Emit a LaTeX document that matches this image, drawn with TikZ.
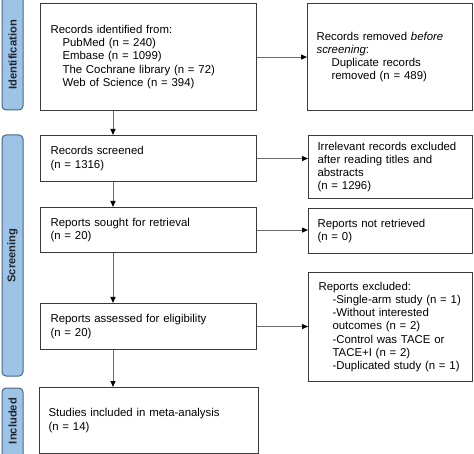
\documentclass[tikz,border=0pt]{standalone}
\usepackage{fontspec}
\setmainfont{Liberation Sans}
\usetikzlibrary{arrows.meta,calc}
\definecolor{sidefill}{HTML}{9DC3E6}
\definecolor{sidedraw}{HTML}{4A6581}
\definecolor{sidetext}{HTML}{1E2630}
\definecolor{boxdraw}{HTML}{3A3A3A}
\definecolor{arrline}{HTML}{6A6A6A}
\begin{document}
\begin{tikzpicture}[x=1pt,y=-1pt,
  flowbox/.style={draw=boxdraw,line width=1.1pt,fill=white,anchor=north west,
    align=left,inner ysep=0pt,font=\fontsize{11.4}{13.3}\selectfont},
  sidebar/.style={draw=sidedraw,line width=1pt,fill=sidefill,rounded corners=4pt},
  sidelabel/.style={rotate=90,font=\fontsize{11.2}{13}\selectfont\bfseries,text=sidetext},
  arr/.style={draw=arrline,line width=0.8pt,-{Triangle[length=6pt,width=5pt,color=black]}}]
\useasboundingbox (0,0) rectangle (474,454);
% side bars
\draw[sidebar] (2,-4) rectangle (23,110);
\node[sidelabel] (lid) at (12.5,55) {Identification};
\draw[sidebar] (2,135) rectangle (23,376);
\node[sidelabel] (lsc) at (12.5,255.5) {Screening};
\draw[sidebar] (2,388) rectangle (23,462);
\node[sidelabel] (lin) at (12.5,421) {Included};
% boxes
\node[flowbox,inner xsep=10pt,text width=196pt,minimum width=216pt,minimum height=107pt] (ident) at (40,3)
  {Records identified from:\\
   \hspace*{12pt}PubMed (n = 240)\\
   \hspace*{12pt}Embase (n = 1099)\\
   \hspace*{12pt}The Cochrane library (n = 72)\\
   \hspace*{12pt}Web of Science (n = 394)};
\node[flowbox,inner xsep=9pt,text width=147pt,minimum width=165pt,minimum height=107pt] (removed) at (307,3)
  {Records removed \textit{before}\\
   \textit{screening}:\\
   \hspace*{15pt}Duplicate records\\
   \hspace*{15pt}removed (n = 489)};
\node[flowbox,inner xsep=10pt,text width=196pt,minimum width=216pt,minimum height=46pt] (screened) at (40,135)
  {Records screened\\(n = 1316)};
\node[flowbox,inner xsep=9pt,text width=146pt,minimum width=164pt,minimum height=63pt] (irrel) at (308,135)
  {Irrelevant records excluded\\after reading titles and\\abstracts\\(n = 1296)};
\node[flowbox,inner xsep=10pt,text width=196pt,minimum width=216pt,minimum height=45pt] (sought) at (40,207)
  {Reports sought for retrieval\\(n = 20)};
\node[flowbox,inner xsep=9pt,text width=146pt,minimum width=164pt,minimum height=45pt] (notret) at (308,208)
  {Reports not retrieved\\(n = 0)};
\node[flowbox,inner xsep=10pt,text width=196pt,minimum width=216pt,minimum height=46pt] (assessed) at (40,303)
  {Reports assessed for eligibility\\(n = 20)};
\node[flowbox,inner xsep=10pt,text width=144pt,minimum width=164pt,minimum height=109pt] (excluded) at (308,272)
  {Reports excluded:\\
   \hspace*{14pt}-Single-arm study (n = 1)\\
   \hspace*{14pt}-Without interested\\
   \hspace*{14pt}outcomes (n = 2)\\
   \hspace*{14pt}-Control was TACE or\\
   \hspace*{14pt}TACE+I (n = 2)\\
   \hspace*{14pt}-Duplicated study (n = 1)};
\node[flowbox,inner xsep=9pt,text width=201pt,minimum width=219pt,minimum height=66pt] (studies) at (39,387)
  {Studies included in meta-analysis\\(n = 14)};
% arrows
\coordinate (ax) at (113,0);
\draw[arr] (ident.south -| ax) -- (screened.north -| ax);
\draw[arr] (screened.south -| ax) -- (sought.north -| ax);
\draw[arr] (sought.south -| ax) -- (assessed.north -| ax);
\draw[arr] (assessed.south -| ax) -- (studies.north -| ax);
\draw[arr] (ident.east) -- (ident.east -| removed.west);
\draw[arr] (screened.east) -- (screened.east -| irrel.west);
\draw[arr] (sought.east) -- (sought.east -| notret.west);
\draw[arr] (assessed.east) -- (assessed.east -| excluded.west);
\end{tikzpicture}
\end{document}
